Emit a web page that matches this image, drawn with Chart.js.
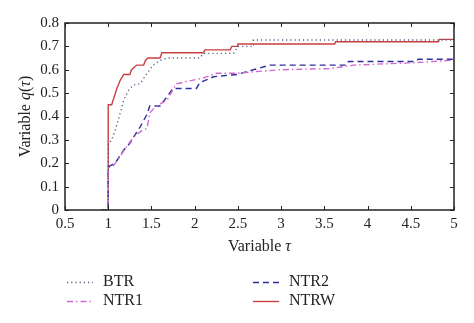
<!DOCTYPE html>
<html>
<head>
<meta charset="utf-8">
<script src="https://cdn.jsdelivr.net/npm/chart.js@4"></script>
<style>
  html, body { margin: 0; padding: 0; background: #fff; }
  #wrap { width: 474px; height: 323px; }
</style>
</head>
<body>
<div id="wrap"><canvas id="chart" width="474" height="323"></canvas></div>
<script>
// --- dados ---
const xTicks = [0.5, 1, 1.5, 2, 2.5, 3, 3.5, 4, 4.5, 5];
const yTicks = [0, 0.1, 0.2, 0.3, 0.4, 0.5, 0.6, 0.7, 0.8];

const btrX = [0.92, 1.0, 1.0, 1.04, 1.08, 1.12, 1.18, 1.23, 1.29, 1.37, 1.45, 1.52, 1.60, 1.68, 2.06, 2.10, 2.45, 2.50, 2.68, 2.68, 5.0];
const btrY = [0, 0, 0.28, 0.30, 0.34, 0.39, 0.47, 0.51, 0.535, 0.54, 0.585, 0.62, 0.64, 0.65, 0.65, 0.67, 0.67, 0.70, 0.70, 0.727, 0.727];

const ntr1X = [0.92, 1.0, 1.0, 1.06, 1.14, 1.21, 1.29, 1.37, 1.45, 1.48, 1.54, 1.68, 1.79, 1.91, 2.10, 2.25, 2.49, 2.64, 2.99, 3.57, 3.84, 4.53, 4.96, 5.0];
const ntr1Y = [0, 0, 0.18, 0.19, 0.23, 0.27, 0.31, 0.335, 0.35, 0.415, 0.44, 0.47, 0.54, 0.55, 0.565, 0.585, 0.585, 0.59, 0.60, 0.605, 0.62, 0.63, 0.64, 0.64];

const ntr2X = [0.92, 1.0, 1.0, 1.08, 1.18, 1.25, 1.29, 1.37, 1.45, 1.48, 1.60, 1.68, 1.75, 2.02, 2.06, 2.22, 2.49, 2.68, 2.87, 3.76, 3.78, 4.55, 4.59, 5.0];
const ntr2Y = [0, 0, 0.185, 0.20, 0.257, 0.285, 0.31, 0.356, 0.41, 0.445, 0.445, 0.485, 0.52, 0.52, 0.545, 0.57, 0.58, 0.60, 0.62, 0.62, 0.635, 0.635, 0.645, 0.645];

const ntrwX = [0.92, 1.0, 1.0, 1.04, 1.07, 1.10, 1.14, 1.18, 1.25, 1.27, 1.33, 1.41, 1.43, 1.46, 1.60, 1.62, 2.10, 2.12, 2.41, 2.43, 2.49, 2.50, 3.62, 3.63, 4.82, 4.83, 5.0];
const ntrwY = [0, 0, 0.45, 0.45, 0.485, 0.52, 0.556, 0.58, 0.58, 0.60, 0.62, 0.62, 0.64, 0.65, 0.65, 0.673, 0.673, 0.685, 0.685, 0.70, 0.70, 0.71, 0.71, 0.72, 0.72, 0.73, 0.73];

const seriesNames = ['BTR', 'NTR1', 'NTR2', 'NTRW'];

function pontos(xs, ys) {
    return xs.map((x, i) => ({ x: x, y: ys[i] }));
}

const serif = '"Liberation Serif", "DejaVu Serif", serif';

// Estilos de cada série
const estilos = {
    BTR:  { color: '#5c5c86', dash: [1.2, 3], width: 1.4 },
    NTR1: { color: '#d068d0', dash: [6, 3, 1.5, 3], width: 1.4 },
    NTR2: { color: '#2f2f9c', dash: [6, 4], width: 1.4 },
    NTRW: { color: '#c8403f', dash: [], width: 1.4 }
};

const dadosSeries = {
    BTR: pontos(btrX, btrY),
    NTR1: pontos(ntr1X, ntr1Y),
    NTR2: pontos(ntr2X, ntr2Y),
    NTRW: pontos(ntrwX, ntrwY)
};

// Caixa, ticks internos, títulos dos eixos e legenda
const molduraPlugin = {
    id: 'moldura',
    afterDraw(chart) {
        const ctx = chart.ctx;
        const a = chart.chartArea;
        const xs = chart.scales.x, ys = chart.scales.y;
        ctx.save();
        ctx.strokeStyle = '#222';
        ctx.lineWidth = 1.5;
        ctx.setLineDash([]);
        ctx.strokeRect(a.left, a.top, a.right - a.left, a.bottom - a.top);
        ctx.lineWidth = 1;
        xTicks.forEach(v => {
            const px = Math.round(xs.getPixelForValue(v)) + 0.5;
            ctx.beginPath();
            ctx.moveTo(px, a.bottom); ctx.lineTo(px, a.bottom - 4);
            ctx.moveTo(px, a.top); ctx.lineTo(px, a.top + 4);
            ctx.stroke();
        });
        yTicks.forEach(v => {
            const py = Math.round(ys.getPixelForValue(v)) + 0.5;
            ctx.beginPath();
            ctx.moveTo(a.left, py); ctx.lineTo(a.left + 4, py);
            ctx.moveTo(a.right, py); ctx.lineTo(a.right - 4, py);
            ctx.stroke();
        });

        // título do eixo x: "Variable τ"
        ctx.fillStyle = '#222';
        ctx.textBaseline = 'middle';
        const normal = '16px ' + serif, italico = 'italic 16px ' + serif;
        ctx.font = normal;
        const w1 = ctx.measureText('Variable ').width;
        ctx.font = italico;
        const w2 = ctx.measureText('τ').width;
        let x0 = (a.left + a.right) / 2 - (w1 + w2) / 2;
        ctx.textAlign = 'left';
        ctx.font = normal; ctx.fillText('Variable ', x0, 247);
        ctx.font = italico; ctx.fillText('τ', x0 + w1, 247);

        // título do eixo y: "Variable q(τ)"
        ctx.save();
        ctx.translate(26, (a.top + a.bottom) / 2);
        ctx.rotate(-Math.PI / 2);
        const partes = [['Variable ', normal], ['q', italico], ['(', normal], ['τ', italico], [')', normal]];
        let total = 0;
        partes.forEach(p => { ctx.font = p[1]; total += ctx.measureText(p[0]).width; });
        let cx = -total / 2;
        partes.forEach(p => {
            ctx.font = p[1];
            ctx.fillText(p[0], cx, 0);
            cx += ctx.measureText(p[0]).width;
        });
        ctx.restore();

        // legenda em duas colunas
        const pos = {
            BTR:  [67, 282],
            NTR1: [67, 301],
            NTR2: [253, 282],
            NTRW: [253, 301]
        };
        seriesNames.forEach(nome => {
            const e = estilos[nome];
            const [lx, ly] = pos[nome];
            ctx.strokeStyle = e.color;
            ctx.lineWidth = e.width;
            ctx.setLineDash(e.dash);
            ctx.beginPath();
            ctx.moveTo(lx, ly + 0.5); ctx.lineTo(lx + 26, ly + 0.5);
            ctx.stroke();
            ctx.setLineDash([]);
            ctx.fillStyle = '#222';
            ctx.font = '16px ' + serif;
            ctx.fillText(nome, lx + 36, ly);
        });
        ctx.restore();
    }
};

new Chart(document.getElementById('chart'), {
    type: 'line',
    data: {
        datasets: seriesNames.map(nome => ({
            label: nome,
            data: dadosSeries[nome],
            borderColor: estilos[nome].color,
            borderDash: estilos[nome].dash,
            borderWidth: estilos[nome].width,
            pointRadius: 0,
            tension: 0,
            fill: false
        }))
    },
    options: {
        responsive: false,
        animation: false,
        layout: { padding: { left: 0, top: 23, right: 20, bottom: 0 } },
        plugins: { legend: { display: false }, tooltip: { enabled: false } },
        scales: {
            x: {
                type: 'linear',
                min: 0.5, max: 5,
                afterBuildTicks: s => { s.ticks = xTicks.map(v => ({ value: v })); },
                afterFit: s => { s.height = 113; },
                grid: { display: false, drawTicks: false },
                border: { display: false },
                ticks: {
                    color: '#222', padding: 5, maxRotation: 0,
                    font: { family: serif, size: 15 },
                    callback: v => String(v)
                }
            },
            y: {
                type: 'linear',
                min: 0, max: 0.8,
                afterBuildTicks: s => { s.ticks = yTicks.map(v => ({ value: v })); },
                afterFit: s => { s.width = 65; },
                grid: { display: false, drawTicks: false },
                border: { display: false },
                ticks: {
                    color: '#222', padding: 6,
                    font: { family: serif, size: 15 },
                    callback: v => String(v)
                }
            }
        }
    },
    plugins: [molduraPlugin]
});
</script>
</body>
</html>
